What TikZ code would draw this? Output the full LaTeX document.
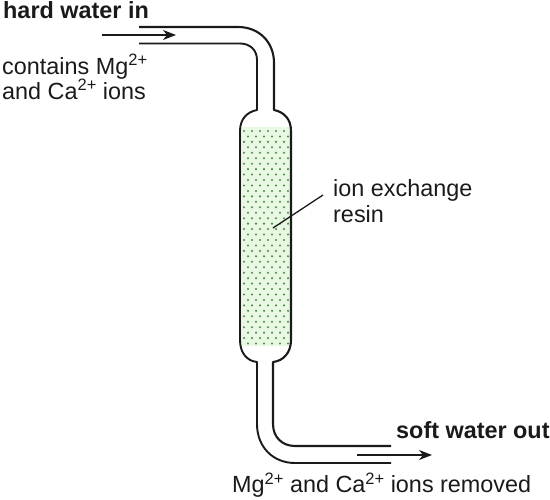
\documentclass[tikz,border=0pt]{standalone}
\usepackage{fontspec}
\setmainfont{Liberation Sans}
\usetikzlibrary{arrows.meta}
\definecolor{resin}{HTML}{E8F8E2}
\definecolor{resindot}{HTML}{4F8A4A}
\definecolor{ink}{HTML}{1A1A1A}
\newcommand{\ionsup}{\raisebox{9pt}{\fontsize{16.5}{18}\selectfont 2+}}
\tikzset{
  pipe/.style={draw=ink,line width=1.9pt,line join=round},
  flow/.style={draw=ink,line width=1.4pt,-{Stealth[length=13pt,width=10pt,inset=4pt]}},
  lab/.style={inner sep=0pt,anchor=base west,font=\fontsize{23.4}{26}\selectfont,text=ink},
  leader/.style={draw=ink,line width=1.3pt}
}
\begin{document}
\begin{tikzpicture}[x=1pt,y=-1pt]
\useasboundingbox (0,0) rectangle (550,500);
% resin
\fill[resin] (241,127) rectangle (290,346);
\foreach \r in {0,...,39}{
  \pgfmathsetmacro{\yy}{131+5.45*\r}
  \pgfmathsetmacro{\xo}{mod(\r,2)==0 ? 244 : 248}
  \foreach \c in {0,...,5}{
    \pgfmathparse{\xo+8*\c<289 ? 1 : 0}
    \ifnum\pgfmathresult=1
      \fill[resindot] ({\xo+8*\c},\yy) circle (1.15pt);
    \fi
  }
}
% tube outline
\draw[pipe,line width=2.1pt] (139,27) -- (238,27) .. controls (259,27) and (274,42) .. (274,63) -- (274,110)
  .. controls (284,112) and (291,119) .. (291,131) -- (291,340) .. controls (291,353) and (283,361) .. (273,362)
  -- (273,424) .. controls (273,437) and (282,446) .. (295,446) -- (391,446);
\draw[pipe] (139,43.5) -- (240,43.5) .. controls (250,43.5) and (257,50) .. (257,60) -- (257,110)
  .. controls (247,112) and (240,119) .. (240,131) -- (240,340) .. controls (240,353) and (247,361) .. (257,362)
  -- (257,424) .. controls (257,447) and (273,463) .. (295,463) -- (391,463);
% flow arrows
\coordinate (inS) at (102,35);
\coordinate (inE) at (176,35);
\coordinate (outS) at (357,455);
\coordinate (outE) at (432,455);
\draw[flow] (inS) -- (inE);
\draw[flow] (outS) -- (outE);
% labels
\node[lab,font=\fontsize{23.4}{26}\selectfont\bfseries] (hard) at (3,19) {hard water in};
\node[lab] (cont) at (2,74.5) {contains Mg\ionsup};
\node[lab] (ca) at (2,100) {and Ca\ionsup\ ions};
\node[lab] (ion) at (333,197) {ion exchange};
\node[lab] (res) at (333,223) {resin};
\node[lab,font=\fontsize{23.4}{26}\selectfont\bfseries] (soft) at (396,438.5) {soft water out};
\node[lab] (mg) at (232,493) {Mg\ionsup\ and Ca\ionsup\ ions removed};
% leader
\coordinate (la) at (323,195);
\coordinate (lb) at (273,228);
\draw[leader] (la) -- (lb);
\end{tikzpicture}
\end{document}
